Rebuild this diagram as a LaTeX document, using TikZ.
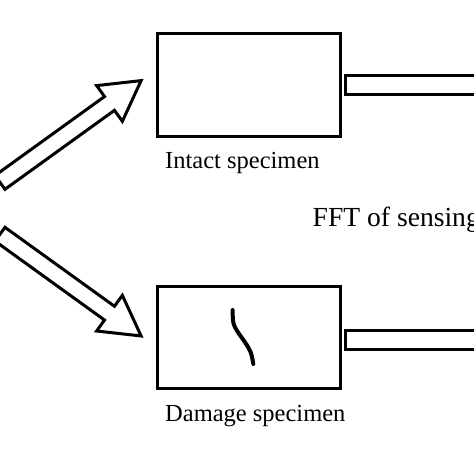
\documentclass[tikz,border=0pt]{standalone}
\usepackage{fontspec}
\setmainfont{Liberation Serif}
\begin{document}
\begin{tikzpicture}[x=1pt,y=-1pt,
  specbox/.style={draw, line width=3pt, inner sep=0pt, outer sep=0pt, anchor=north west},
  barbox/.style={draw, line width=3pt, inner sep=0pt, outer sep=0pt, anchor=north west, minimum width=160pt},
  lbl/.style={inner sep=0pt, anchor=base west, font=\fontsize{24.5}{29}\selectfont},
  biglbl/.style={lbl, font=\fontsize{27.6}{32}\selectfont},
  blk/.style={draw, fill=white, line width=3pt, line join=miter},
  crack/.style={line width=4pt, line cap=round, line join=round},
  ]
\useasboundingbox (0,0) rectangle (474,474);
\clip (0,0) rectangle (474,474);
% specimens
\node[specbox, minimum width=183pt, minimum height=103pt] (intact) at (157,33.5) {};
\node[specbox, minimum width=183pt, minimum height=102pt] (damage) at (157,286) {};
% sensing bars
\node[barbox, minimum height=19pt] (bar1) at (345,75.5) {};
\node[barbox, minimum height=19pt] (bar2) at (345,330.3) {};
% crack
\draw[crack] plot[smooth, tension=0.6] coordinates {(232.6,310) (233.4,323) (237.5,331.5) (245.5,343) (250.8,352.5) (253.3,364)};
% labels
\node[lbl] (lintact) at (165,168.8) {Intact specimen};
\node[lbl] (ldamage) at (165,421.7) {Damage specimen};
\node[biglbl] (lfft) at (312.5,226.7) {FFT of sensing};
% block arrows
\coordinate (src1) at (0,182.4);
\coordinate (src2) at (0,234.2);
\begin{scope}[shift={(src1)}, rotate=35.8]
  \draw[blk] (0,-8.5) -- (135,-8.5) -- (135,-22) -- (174,0) coordinate (tip1) -- (135,22) -- (135,8.5) -- (0,8.5) -- cycle;
\end{scope}
\begin{scope}[shift={(src2)}, rotate=-35.8]
  \draw[blk] (0,-8.5) -- (135,-8.5) -- (135,-22) -- (174,0) coordinate (tip2) -- (135,22) -- (135,8.5) -- (0,8.5) -- cycle;
\end{scope}
\end{tikzpicture}
\end{document}
